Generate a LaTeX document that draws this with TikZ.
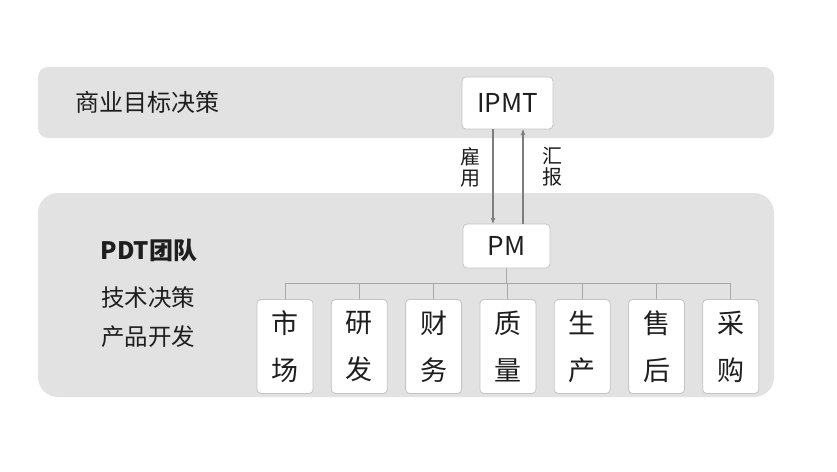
\documentclass[tikz,border=0pt]{standalone}
\usepackage{fontspec}
\setmainfont{Noto Sans CJK SC}
\usetikzlibrary{arrows.meta}
\definecolor{band}{HTML}{E2E2E2}
\definecolor{boxline}{HTML}{C4C4C4}
\definecolor{arrcol}{HTML}{7E7E7E}
\definecolor{treecol}{HTML}{A8A8A8}
\definecolor{txt}{HTML}{1E1E1E}
\tikzset{
  bandshape/.style={fill=band, draw=none},
  whitebox/.style={draw=boxline, fill=white, line width=0.8pt, rounded corners=4pt, inner sep=0pt, text=txt},
  dept/.style={whitebox, minimum width=56pt, minimum height=94pt, align=center, font=\fontsize{27}{47}\selectfont},
  arr/.style={draw=arrcol, line width=1.1pt, -{Stealth[length=6pt,width=4.5pt]}},
  tree/.style={draw=treecol, line width=0.9pt},
  lbl/.style={text=txt, inner sep=0pt},
}
\begin{document}
\begin{tikzpicture}[x=1pt,y=-1pt]
\useasboundingbox (0,0) rectangle (837,471);
\fill[white] (0,0) rectangle (837,471);
% bands
\fill[bandshape, rounded corners=10pt] (38,67) rectangle (774,138);
\fill[bandshape, rounded corners=20pt] (38,193) rectangle (774,397);
% left texts
\node[lbl, font=\fontsize{24}{28}\selectfont] (biz) at (147,102) {商业目标决策};
\node[lbl, font=\fontsize{24}{28}\selectfont\bfseries] (pdt) at (149,250) {PDT团队};
\node[lbl, font=\fontsize{23.5}{28}\selectfont] (tech) at (148,298) {技术决策};
\node[lbl, font=\fontsize{23.5}{28}\selectfont] (dev) at (148,337) {产品开发};
% IPMT and PM
\node[whitebox, minimum width=91pt, minimum height=52pt, font=\fontsize{26}{30}\selectfont] (ipmt) at (507.5,103) {IPMT};
\node[whitebox, minimum width=87pt, minimum height=44pt, font=\fontsize{26}{30}\selectfont] (pm) at (506.5,246) {PM};
% arrows
\draw[arr] ([xshift=-14.5pt]ipmt.south) -- ([xshift=-13.5pt]pm.north);
\draw[arr] ([xshift=16.5pt]pm.north) -- ([xshift=15.5pt]ipmt.south);
\node[lbl, align=center, font=\fontsize{20}{21}\selectfont] (hire) at (470,167) {雇\\用};
\node[lbl, align=center, font=\fontsize{20}{21}\selectfont] (report) at (552,167) {汇\\报};
% departments
\node[dept] (d1) at (285,346.5) {市\\场};
\node[dept] (d2) at (359.3,346.5) {研\\发};
\node[dept] (d3) at (433.6,346.5) {财\\务};
\node[dept] (d4) at (507.9,346.5) {质\\量};
\node[dept] (d5) at (582.2,346.5) {生\\产};
\node[dept] (d6) at (656.5,346.5) {售\\后};
\node[dept] (d7) at (730.8,346.5) {采\\购};
% tree
\coordinate (bus) at (506.5,283);
\draw[tree] (pm.south) -- (bus);
\draw[tree] (d1.north |- bus) -- (d7.north |- bus);
\foreach \i in {1,...,7} {
  \draw[tree] (d\i.north |- bus) -- (d\i.north);
}
\end{tikzpicture}
\end{document}
